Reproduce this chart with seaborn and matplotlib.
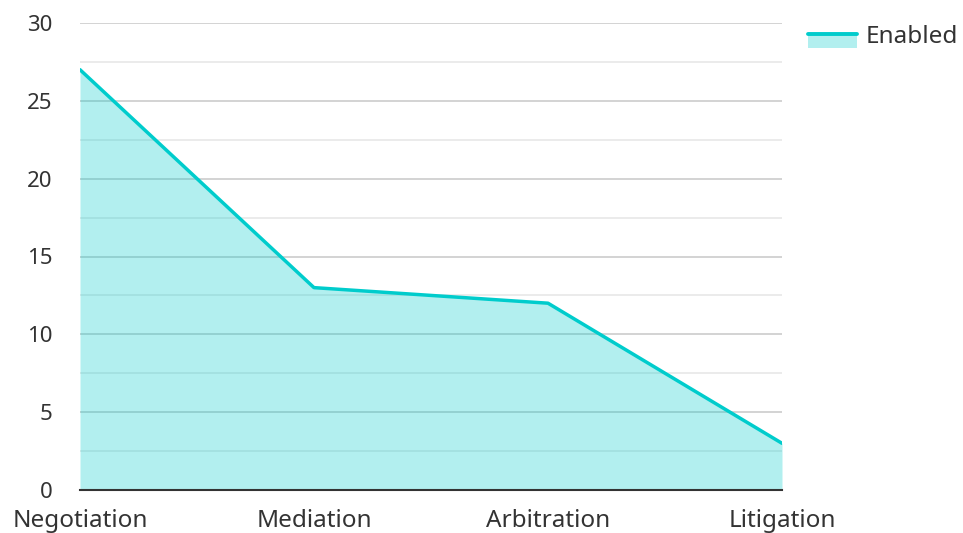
import matplotlib
matplotlib.use("Agg")
import matplotlib.pyplot as plt
import seaborn as sns
import pandas as pd
import numpy as np
from matplotlib.legend_handler import HandlerBase
from matplotlib.patches import Rectangle
from matplotlib.lines import Line2D

categories = ["Negotiation", "Mediation", "Arbitration", "Litigation"]
values = [27, 13, 12, 3]
series_name = "Enabled"

sns.set_theme(style="white")
plt.rcParams['font.family'] = ['Noto Sans', 'DejaVu Sans']

LINE = "#00cccc"
FILL = "#00cccc"

df = pd.DataFrame({"cat": categories, "val": values})

fig = plt.figure(figsize=(9.63, 5.33), dpi=100)
ax = fig.add_axes([80/963, 1-490/533, (782-80)/963, (490-23)/533])

x = np.arange(len(categories))
ax.fill_between(x, df["val"], 0, color=FILL, alpha=0.3, linewidth=0, zorder=2)
sns.lineplot(data=df, x="cat", y="val", ax=ax, color=LINE, linewidth=2.5, zorder=3, sort=False)

ax.set_xlim(0, len(categories) - 1)
ax.set_ylim(0, 30)
ax.set_yticks(np.arange(0, 31, 5))
ax.set_yticks(np.arange(2.5, 30, 5), minor=True)
ax.grid(True, which="major", axis="y", color="#c8c8c8", linewidth=1.1, zorder=1)
ax.grid(True, which="minor", axis="y", color="#e6e6e6", linewidth=1.1, zorder=1)
ax.grid(False, axis="x")
ax.set_axisbelow(True)

for s in ["left", "right", "top"]:
    ax.spines[s].set_visible(False)
ax.spines["bottom"].set_color("#333333")
ax.spines["bottom"].set_linewidth(1.5)
ax.spines["bottom"].set_zorder(4)

ax.tick_params(axis="both", which="both", length=0, colors="#333333")
ax.tick_params(axis="y", labelsize=16, pad=20)
ax.tick_params(axis="x", labelsize=17.5, pad=13.5)
ax.set_xlabel("")
ax.set_ylabel("")


class AreaHandler(HandlerBase):
    def create_artists(self, legend, orig, xd, yd, w, h, fontsize, trans):
        r = Rectangle((xd, yd - 0.3 * h), w, h * 0.8, facecolor=FILL, alpha=0.3,
                      edgecolor="none", transform=trans)
        ln = Line2D([xd, xd + w], [yd + 0.5 * h, yd + 0.5 * h], color=LINE,
                    linewidth=2.8, transform=trans)
        return [r, ln]


handle = Rectangle((0, 0), 1, 1)
fig.legend([handle], [series_name], handler_map={Rectangle: AreaHandler()},
           loc="upper left", bbox_to_anchor=(808/963, 1-25/533), frameon=False,
           fontsize=17.5, handlelength=2.0, handletextpad=0.37, borderaxespad=0,
           borderpad=0)
for t in fig.legends[0].get_texts():
    t.set_color("#333333")

fig.savefig("out.png", dpi=100)
